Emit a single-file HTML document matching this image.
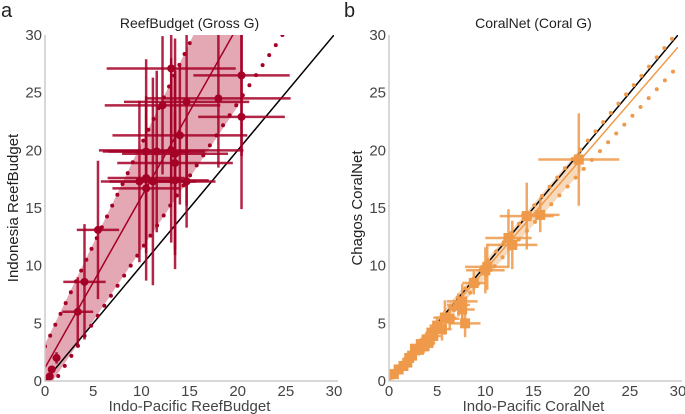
<!DOCTYPE html>
<html><head><meta charset="utf-8"><style>
body{margin:0;background:#fff;}
svg{display:block;font-family:"Liberation Sans",sans-serif;}
</style></head><body>
<svg id="chart" width="685" height="414" viewBox="0 0 685 414" xmlns="http://www.w3.org/2000/svg"></svg>
<script>
// Panel a data (Indo-Pacific vs Indonesia ReefBudget)
const aX=[5.5,4.1,3.4,1.2,0.7,0.5,0.2,9.8,10.5,10.5,10.5,11.2,12.2,11.6,13.1,13.1,13.5,13.5,13.5,14.0,14.7,18.0,20.4,20.4,14.7];
const aY=[13.1,8.6,6.0,2.0,1.0,0.4,0.2,17.3,19.9,17.6,16.7,17.3,23.9,19.9,27.1,20.0,18.9,17.4,19.7,21.3,24.2,24.5,26.5,22.9,17.3];
const aXe=[2.2,2.2,1.6,0.4,0.3,0.2,0.1,4.0,4.5,4.0,3.5,4.5,6.0,5.0,6.7,7.5,6.0,3.5,5.5,7.0,6.5,7.5,5.0,4.5,3.0];
const aYe=[6.0,5.0,3.0,0.5,0.3,0.2,0.1,7.0,8.0,6.5,8.0,9.0,6.0,7.0,10.0,8.0,8.0,6.0,10.0,6.0,9.0,6.0,7.0,8.0,4.0];
// Panel b data (Indo-Pacific vs Chagos CoralNet)
const bX=[19.7,15.7,14.3,12.4,12.8,10.2,8.8,7.6,7.6,7.9,5.8,5.5,4.6,4.1,3.6,3.1,2.4,1.9,1.0,0.5,6.3,5.0,4.4,3.9,3.3,2.7,2.1,1.5,10.0,7.2];
const bY=[19.2,14.4,14.3,12.4,11.8,9.9,8.5,6.9,6.2,5.0,5.5,4.5,3.9,3.3,3.0,2.7,2.2,1.6,1.0,0.6,5.4,4.8,4.2,3.6,3.2,2.8,2.0,1.3,9.6,6.6];
const bXe=[4.2,2.0,2.8,2.4,2.6,2.3,1.2,1.6,1.3,1.6,1.2,1.0,0.8,0.7,0.6,0.5,0.4,0.4,0.3,0.2,1.0,0.8,0.6,0.6,0.5,0.4,0.4,0.3,2.0,1.2];
const bYe=[4.0,1.5,2.9,2.5,2.1,2.0,1.0,1.5,1.2,1.2,1.5,1.0,0.8,0.7,0.6,0.5,0.4,0.4,0.3,0.2,1.0,0.8,0.6,0.6,0.5,0.4,0.4,0.3,2.0,1.0];
const ticks=[0,5,10,15,20,25,30];
const aFit=[1.15,1.48]; const aUp=[3.0,1.75]; const aLo=[-1.3,1.27]; const aBandUp=[3.2,1.74]; const aBandLo=[-1.0,1.24];
const bFit=[0,0.965]; const bUp=[0,1.01]; const bLo=[0,0.91];

const NS="http://www.w3.org/2000/svg";
const svg=document.getElementById('chart');
function el(t,a,p){const e=document.createElementNS(NS,t);for(const k in a)e.setAttribute(k,a[k]);(p||svg).appendChild(e);return e;}

function panel(o){
  const g=el('g',{});
  
  
  const sx=v=>o.x0+v*(o.x1-o.x0)/30, sy=v=>o.y0-v*(o.y0-o.y1)/30;
  const clip='clip'+o.name;
  const cp=el('clipPath',{id:clip},g); el('rect',{x:sx(0),y:sy(30),width:sx(30)-sx(0),height:sy(0)-sy(30)},cp);
  const pg=el('g',{'clip-path':`url(#${clip})`},g);
  const bandPts=[];
  for(let v=o.bandX[0];v<=o.bandX[1]+1e-6;v+=0.5){bandPts.push([v,o.bandU[0]+o.bandU[1]*v]);}
  for(let v=o.bandX[1];v>=o.bandX[0]-1e-6;v-=0.5){bandPts.push([v,o.bandL[0]+o.bandL[1]*v]);}
  const band=el('polygon',{points:bandPts.map(p=>sx(p[0])+','+sy(p[1])).join(' '),fill:o.bandCol},pg);
  
  
  const id=el('line',{x1:sx(0),y1:sy(0),x2:sx(30),y2:sy(30),stroke:'#000','stroke-width':1.5},pg);
  
  
  for(let i=0;i<o.X.length;i++){
    const x=o.X[i],y=o.Y[i];
    el('line',{x1:sx(x-o.Xe[i]),y1:sy(y),x2:sx(x+o.Xe[i]),y2:sy(y),stroke:o.col,'stroke-width':2.5,opacity:0.85},pg);
    el('line',{x1:sx(x),y1:sy(y-o.Ye[i]),x2:sx(x),y2:sy(y+o.Ye[i]),stroke:o.col,'stroke-width':2.5,opacity:0.85},pg);
  }
  for(let i=0;i<o.X.length;i++){
    const m=el(o.square?'rect':'circle',o.square?{x:sx(o.X[i])-5,y:sy(o.Y[i])-5,width:10,height:10,fill:o.col}:{cx:sx(o.X[i]),cy:sy(o.Y[i]),r:4,fill:o.col},pg);
    
    
  }
  const f=el('line',{x1:sx(0),y1:sy(o.fit[0]),x2:sx(30),y2:sy(o.fit[0]+o.fit[1]*30),stroke:o.col,'stroke-width':1.5},pg);
  
  
  [o.up,o.lo].forEach(l=>{
    const d=el('line',{x1:sx(0),y1:sy(l[0]),x2:sx(30),y2:sy(l[0]+l[1]*30),stroke:o.col,'stroke-width':4,'stroke-dasharray':'0 12','stroke-linecap':'round'},pg);
    
    
  });
  const ax=el('path',{d:`M${sx(0)} ${sy(30)}V${sy(0)}H${sx(30)+4}`,stroke:'#ccc','stroke-width':1.5,fill:'none'},g);
  
  
  ticks.forEach(t=>{
    const tx=el('text',{x:sx(t),y:sy(0)+15,'text-anchor':'middle','font-size':15,fill:'#444'},g);tx.textContent=t;
    
    
    const ty=el('text',{x:sx(0)-3,y:sy(t)+5,'text-anchor':'end','font-size':15,fill:'#444'},g);ty.textContent=t;
    
    
  });
  const xt=el('text',{x:(sx(0)+sx(30))/2,y:411,'text-anchor':'middle','font-size':15,fill:'#444'},g);xt.textContent=o.xlab;
  
  
  const yt=el('text',{transform:`translate(${o.x0-27},${(sy(0)+sy(30))/2}) rotate(-90)`,'text-anchor':'middle','font-size':15,fill:'#222'},g);yt.textContent=o.ylab;
  
  
  const ti=el('text',{x:(sx(0)+sx(30))/2,y:28,'text-anchor':'middle','font-size':14,fill:'#222'},g);ti.textContent=o.title;
  
  
  const pl=el('text',{x:o.lx,y:17,'font-size':20,fill:'#222'},g);pl.textContent=o.letter;
  
  
}
panel({name:'panel-a',x0:45,x1:334,y0:381,y1:35,X:aX,Y:aY,Xe:aXe,Ye:aYe,col:'#a50026',bandCol:'#e4a7b4',
  fit:aFit,up:aUp,lo:aLo,bandU:aBandUp,bandL:aBandLo,bandX:[0,20.5],
  xlab:'Indo-Pacific ReefBudget',ylab:'Indonesia ReefBudget',title:'ReefBudget (Gross G)',letter:'a',lx:1});
panel({name:'panel-b',x0:389,x1:678,y0:381,y1:35,X:bX,Y:bY,Xe:bXe,Ye:bYe,col:'#ee9a4a',bandCol:'#f7d9bb',square:true,
  fit:bFit,up:bUp,lo:bLo,bandU:[0.5,0.99],bandL:[-0.4,0.93],bandX:[0,20],
  xlab:'Indo-Pacific CoralNet',ylab:'Chagos CoralNet',title:'CoralNet (Coral G)',letter:'b',lx:344});
</script>
</body></html>
